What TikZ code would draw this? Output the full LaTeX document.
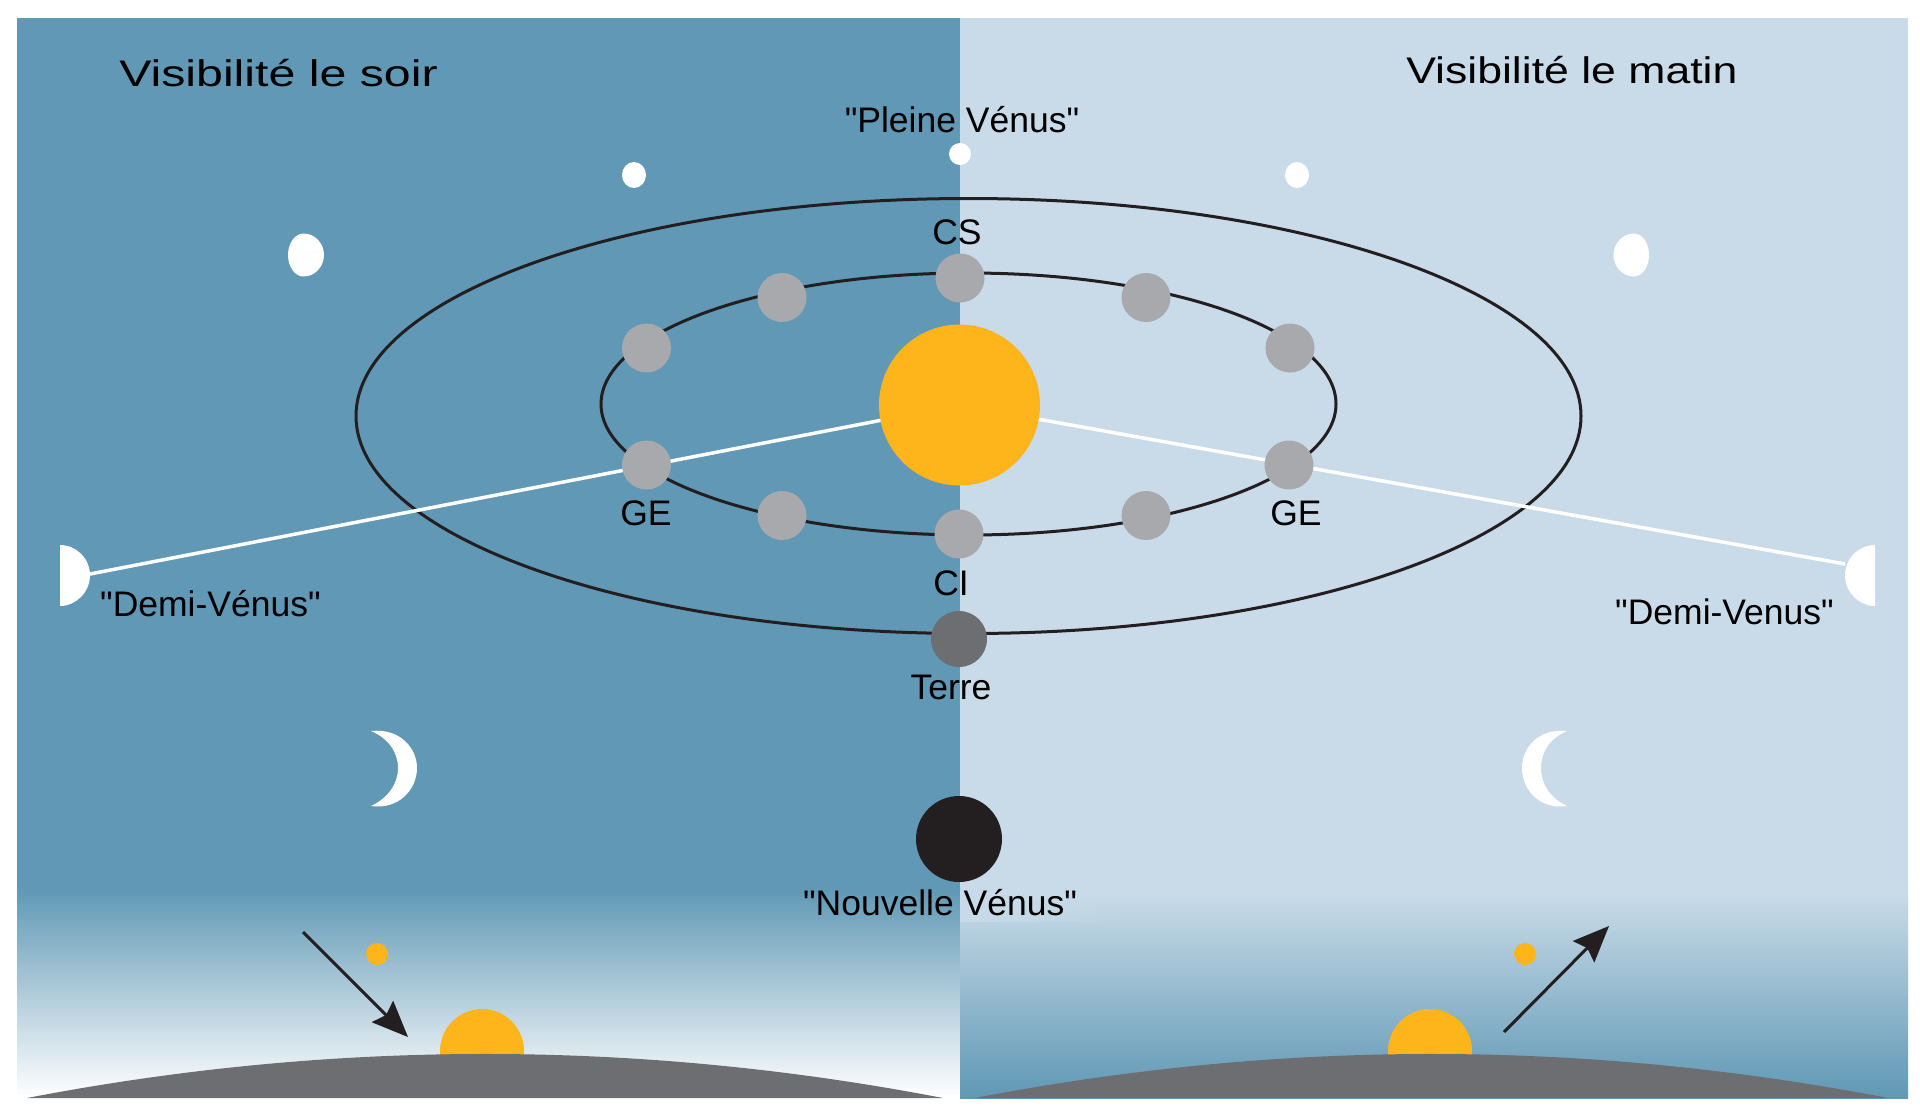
\documentclass[tikz,border=0pt]{standalone}
\usepackage{fontspec}
\newfontfamily\texte{Liberation Sans}
\usetikzlibrary{arrows.meta,fadings}
\definecolor{cielsoir}{HTML}{6098B5}
\definecolor{cielmatin}{HTML}{C9DBE8}
\definecolor{astre}{HTML}{FDB51B}
\definecolor{encre}{HTML}{231F20}
\definecolor{planete}{HTML}{A7A9AC}
\definecolor{terre}{HTML}{6D6E71}
% Egg-shaped lit phase: top and bottom at (cx, cy -+ ry), bulges rxa to the left and rxb to the right
\newcommand{\phasevenus}[5]{%
  \fill[white] (#1,#2-#5) .. controls (#1+0.55*#4,#2-#5) and (#1+#4,#2-0.55*#5) .. (#1+#4,#2)
    .. controls (#1+#4,#2+0.55*#5) and (#1+0.55*#4,#2+#5) .. (#1,#2+#5)
    .. controls (#1-0.55*#3,#2+#5) and (#1-#3,#2+0.55*#5) .. (#1-#3,#2)
    .. controls (#1-#3,#2-0.55*#5) and (#1-0.55*#3,#2-#5) .. (#1,#2-#5) -- cycle;}
\tikzset{
  corps/.style={circle,inner sep=0pt,outer sep=0pt,minimum size=#1},
  venus/.style={corps=49pt,fill=planete},
  orbite/.style={draw=encre,line width=3pt},
  rayon/.style={draw=white,line width=3.5pt},
  fleche/.style={draw=encre,line width=3pt,-{Stealth[length=36pt,width=30pt,inset=5pt]}},
  lbl/.style={anchor=base,inner sep=0pt,text=black,font=\texte\fontsize{35.5}{40}\selectfont},
  titre/.style={anchor=base west,inner sep=0pt,text=black,font=\texte\fontsize{37}{42}\selectfont,transform shape}
}
\begin{document}
\begin{tikzpicture}[x=1pt,y=-1pt]
\useasboundingbox (0,0) rectangle (1920,1112);
\fill[white] (0,0) rectangle (1920,1112);
% Sky, evening side and morning side
\fill[cielsoir] (17,18) rectangle (960,895);
\fill[cielmatin] (960,18) rectangle (1908,895);
\shade[top color=cielsoir,bottom color=white] (17,888) rectangle (960,1098);
\shade[top color=cielmatin,bottom color=cielsoir] (960,893) rectangle (1908,1098);
% Pale patch under the central label
\fill[cielmatin,path fading=east] (960,890) rectangle (1140,922);
% Low suns, then the ground that hides them
\fill[astre] (482,1051) ellipse [x radius=42pt,y radius=42pt];
\fill[astre] (1430,1051) ellipse [x radius=42pt,y radius=42pt];
\fill[terre] (27,1098) .. controls (332,1039.3) and (638,1039.3) .. (943,1098) -- cycle;
\fill[terre] (975,1098) .. controls (1280,1039.3) and (1583,1039.3) .. (1888,1098) -- cycle;
\node[corps=22pt,fill=astre] (venusSoir) at (377,954) {};
\node[corps=22pt,fill=astre] (venusMatin) at (1525,954) {};
% Direction of the apparent motion
\coordinate (departSoir) at (303,932);
\coordinate (finSoir) at (408,1037);
\coordinate (departMatin) at (1504,1032);
\coordinate (finMatin) at (1609,926);
\draw[fleche] (departSoir) -- (finSoir);
\draw[fleche] (departMatin) -- (finMatin);
% Orbits
\draw[orbite] (968.5,416) ellipse [x radius=612.5pt,y radius=217.5pt];
\draw[orbite] (968.5,404) ellipse [x radius=367.5pt,y radius=131pt];
% Sun and sight lines
\node[corps=161pt,fill=astre] (soleil) at (959.5,405) {};
\coordinate (demiGauche) at (90,574);
\coordinate (demiDroite) at (1845,564);
\draw[rayon] (soleil) -- (demiGauche);
\draw[rayon] (soleil) -- (demiDroite);
% Venus along its orbit
\node[venus] (cs) at (960,278) {};
\node[venus] (v1) at (782,297.5) {};
\node[venus] (v2) at (646.5,348) {};
\node[venus] (geG) at (646.5,465) {};
\node[venus] (v3) at (782,515.5) {};
\node[venus] (ci) at (959,534) {};
\node[venus] (v4) at (1146,297.5) {};
\node[venus] (v5) at (1290,348) {};
\node[venus] (geD) at (1289,465) {};
\node[venus] (v6) at (1146,515.5) {};
\node[corps=56pt,fill=terre] (terre) at (959,639) {};
\node[corps=86pt,fill=encre] (nouvelle) at (959,839) {};
\node[corps=22pt,fill=white] (pleine) at (960,154) {};
% Phases seen from Earth
\phasevenus{634}{175}{12}{12}{13}
\phasevenus{1297}{175}{12}{12}{13}
\phasevenus{303.5}{255}{15.5}{20.5}{21.5}
\phasevenus{1634}{255}{20.5}{15}{21.5}
\fill[white] (60,545) .. controls (76,545) and (90,558) .. (90,575.5)
  .. controls (90,592) and (76,606) .. (60,606) -- cycle;
\fill[white] (1875,545) .. controls (1859,545) and (1845,558) .. (1845,575.5)
  .. controls (1845,592) and (1859,606) .. (1875,606) -- cycle;
\fill[white] (371,731) .. controls (400,728) and (417,748) .. (417,768)
  .. controls (417,790) and (398,810) .. (371,806)
  .. controls (388,798) and (398,784) .. (398,768)
  .. controls (398,752) and (388,738) .. (371,731) -- cycle;
\fill[white] (1567,731) .. controls (1538,728) and (1522,748) .. (1522,768)
  .. controls (1522,790) and (1540,810) .. (1567,806)
  .. controls (1550,798) and (1541,784) .. (1541,768)
  .. controls (1541,752) and (1550,738) .. (1567,731) -- cycle;
% Labels
\node[titre,xscale=1.305] (tSoir) at (119,86) {Visibilité le soir};
\node[titre,xscale=1.205] (tMatin) at (1406,83) {Visibilité le matin};
\node[lbl] (lPleine) at (962,132) {"Pleine Vénus"};
\node[lbl] (lCS) at (957,244) {CS};
\node[lbl] (lGEg) at (646,525) {GE};
\node[lbl] (lGEd) at (1296,525) {GE};
\node[lbl] (lCI) at (951,595) {CI};
\node[lbl] (lTerre) at (951,699) {Terre};
\node[lbl] (lNouvelle) at (940,915) {"Nouvelle Vénus"};
\node[lbl,anchor=base west] (lDemiG) at (100,616) {"Demi-Vénus"};
\node[lbl,anchor=base west] (lDemiD) at (1615,624) {"Demi-Venus"};
\end{tikzpicture}
\end{document}
